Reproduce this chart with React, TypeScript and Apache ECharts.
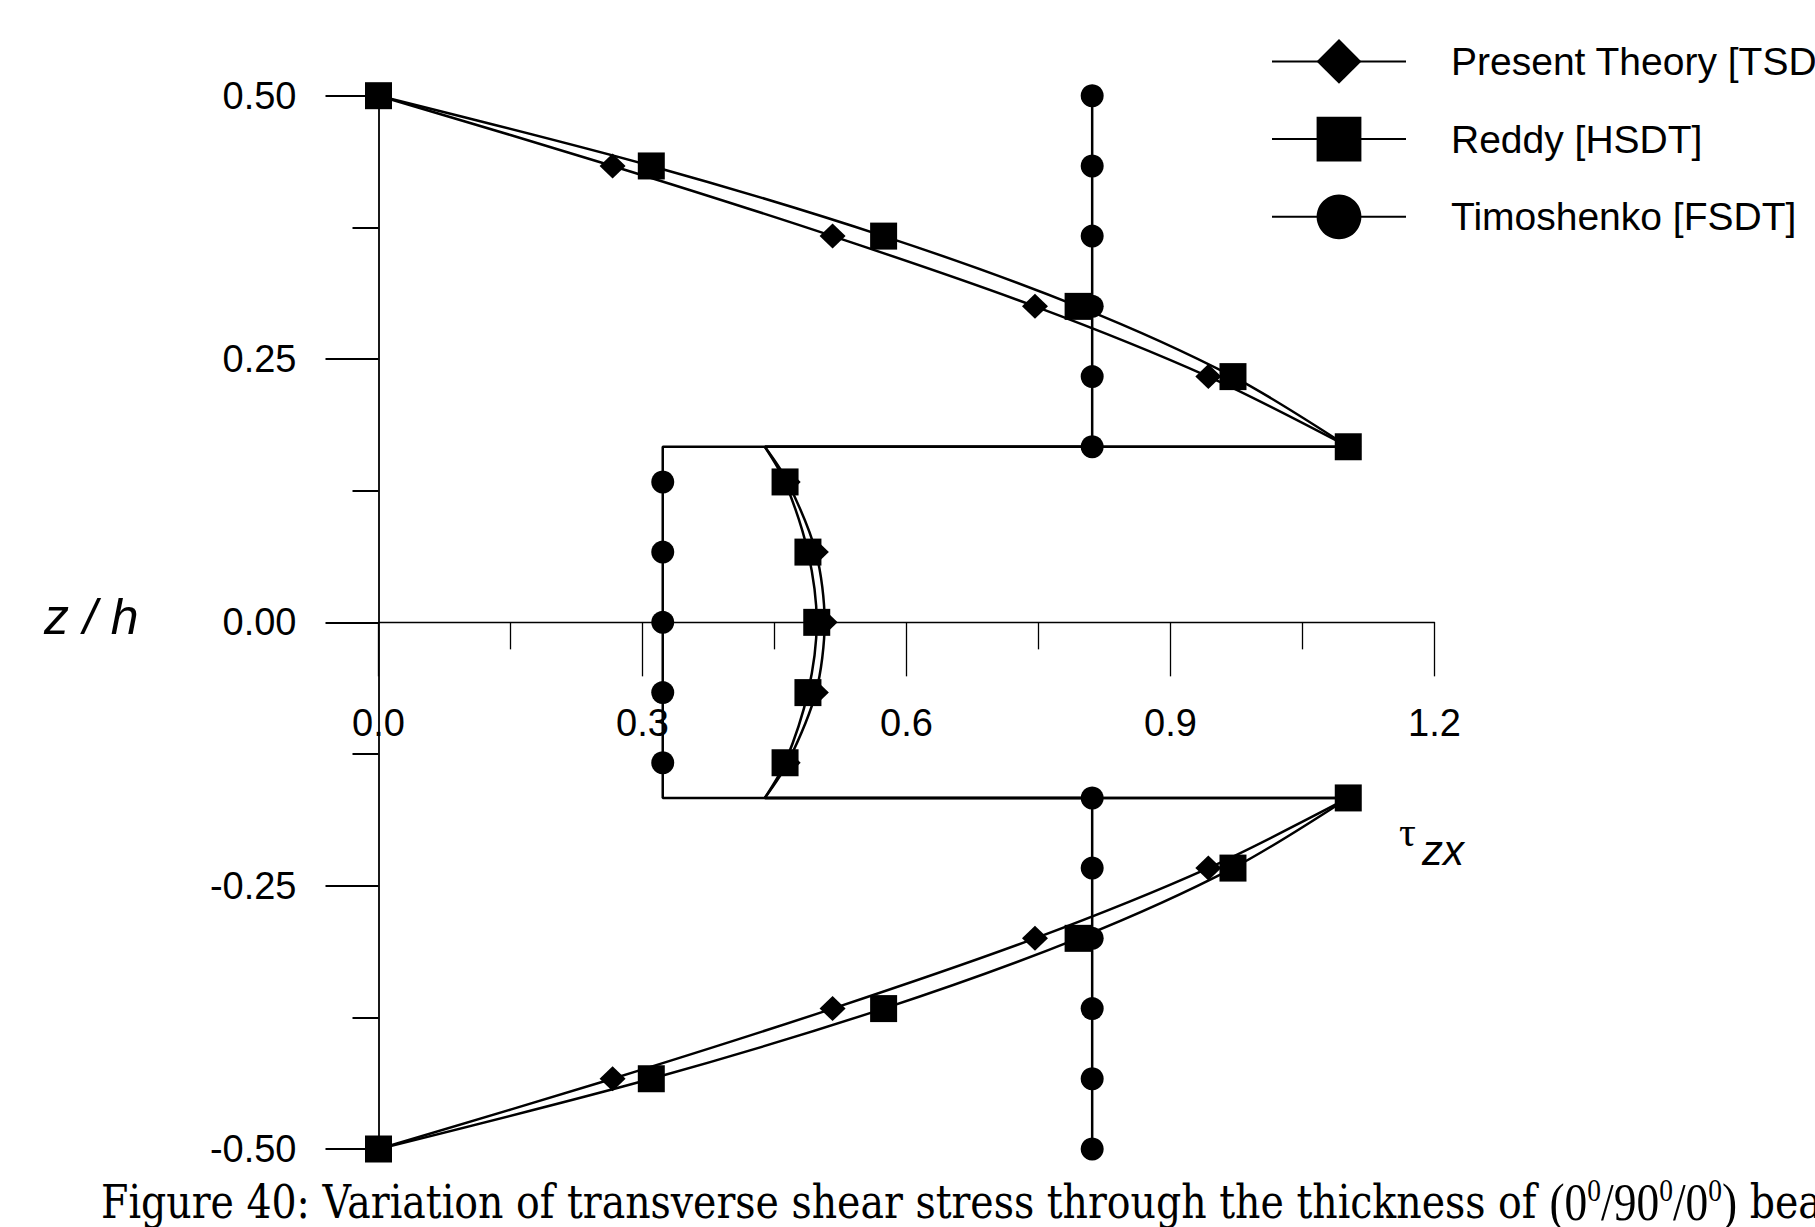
import React, { useEffect, useRef } from "react";
import * as echarts from "echarts";

// ---- data ----
const seriesNames = ["Present Theory [TSDT]", "Reddy [HSDT]", "Timoshenko [FSDT]"];

// top layer (0° ply), z/h from 0.5 down to 1/6
const zTop = [0.5, 0.4333, 0.3667, 0.3, 0.2333, 0.1667];
const presentTop = [0.0, 0.266, 0.516, 0.746, 0.943, 1.102];
const reddyTop = [0.0, 0.31, 0.574, 0.795, 0.971, 1.102];
const timoTop = [0.811, 0.811, 0.811, 0.811, 0.811, 0.811];

// middle layer (90° ply), z/h from 1/6 to -1/6
const zMid = [0.1667, 0.1333, 0.0667, 0.0, -0.0667, -0.1333, -0.1667];
const presentMid = [0.439, 0.465, 0.497, 0.507, 0.497, 0.465, 0.439];
const reddyMid = [0.439, 0.462, 0.488, 0.498, 0.488, 0.462, 0.439];
const timoMid = [0.323, 0.323, 0.323, 0.323, 0.323, 0.323, 0.323];
const midMarked = [false, true, true, true, true, true, false];

// bottom layer (0° ply), z/h from -1/6 to -0.5
const zBot = [-0.1667, -0.2333, -0.3, -0.3667, -0.4333, -0.5];
const presentBot = [1.102, 0.943, 0.746, 0.516, 0.266, 0.0];
const reddyBot = [1.102, 0.971, 0.795, 0.574, 0.31, 0.0];
const timoBot = [0.811, 0.811, 0.811, 0.811, 0.811, 0.811];

const xTickLabels = ["0.0", "0.3", "0.6", "0.9", "1.2"];
const yTickLabels = ["-0.50", "-0.25", "0.00", "0.25", "0.50"];

const captionPrefix = "Figure 40: Variation of transverse shear stress through the thickness of ";
const captionRich =
  "{n|" + captionPrefix + "}{p|(0}{s|0}{p|/90}{s|0}{p|/0}{s|0}{p|)}{n| beam}";

const pts = (xs: number[], zs: number[], marked?: boolean[]) =>
  xs.map((x, i) =>
    marked && !marked[i] ? { value: [x, zs[i]], symbol: "none" } : [x, zs[i]]
  );

export default function App() {
  const ref = useRef<HTMLDivElement>(null);

  useEffect(() => {
    if (!ref.current) return;
    const chart = echarts.init(ref.current, undefined, { renderer: "svg" });

    const capFont = 46;
    let capScale = 1;
    try {
      const ctx = document.createElement("canvas").getContext("2d");
      if (ctx) {
        ctx.font = capFont + 'px "DejaVu Serif"';
        const w = ctx.measureText(captionPrefix).width;
        if (w > 0) capScale = 1448 / w;
      }
    } catch (e) {}

    const black = "#000";
    const lineW = 2.5;
    const fontSans = "Liberation Sans";

    const mkSeries = (name: string, data: any[], symbol: string, size: any, smooth: any) => ({
      name,
      type: "line",
      data,
      smooth,
      symbol,
      symbolSize: size,
      lineStyle: { color: black, width: lineW },
      itemStyle: { color: black },
      emphasis: { disabled: true },
    });

    const dSize = [26, 25];
    const sSize = 27;
    const cSize = 23;
    const sm = 0.3;

    const layered = (name: string, top: number[], mid: number[], bot: number[], symbol: string, size: any) => [
      mkSeries(name, pts(top, zTop), symbol, size, sm),
      mkSeries(
        name,
        [
          [top[top.length - 1], zTop[zTop.length - 1]],
          [mid[0], zMid[0]],
        ],
        "none",
        size,
        false
      ),
      mkSeries(name, pts(mid, zMid, midMarked), symbol, size, sm),
      mkSeries(
        name,
        [
          [mid[mid.length - 1], zMid[zMid.length - 1]],
          [bot[0], zBot[0]],
        ],
        "none",
        size,
        false
      ),
      mkSeries(name, pts(bot, zBot), symbol, size, sm),
    ];

    const series: any[] = [
      ...layered(seriesNames[0], presentTop, presentMid, presentBot, "diamond", dSize),
      ...layered(seriesNames[1], reddyTop, reddyMid, reddyBot, "rect", sSize),
      mkSeries(
        seriesNames[2],
        [...pts(timoTop, zTop), ...pts(timoMid, zMid, midMarked), ...pts(timoBot, zBot)],
        "circle",
        cSize,
        false
      ),
    ];

    const gridTop = 95.7;
    const gridH = 1053.3;
    // labels of an on-zero axis stay at the grid's bottom edge; pull them back up under the zero line
    const xLabelMargin = 82 - gridH / 2;

    chart.setOption({
      animation: false,
      backgroundColor: "#fff",
      grid: {
        left: 378.5,
        top: gridTop,
        width: 1056,
        height: gridH,
        containLabel: false,
        outerBoundsMode: "none",
      },
      legend: {
        data: seriesNames,
        orient: "vertical",
        left: 1266,
        top: 34,
        itemWidth: 134,
        itemHeight: 56,
        itemGap: 32.9,
        selectedMode: false,
        textStyle: {
          color: black,
          fontFamily: fontSans,
          fontSize: 39,
          padding: [0, 0, 0, 40],
        },
      },
      xAxis: {
        type: "value",
        min: 0,
        max: 1.2,
        interval: 0.3,
        axisLine: { onZero: true, lineStyle: { color: black, width: 1.3 } },
        axisTick: { show: true, length: 54, lineStyle: { color: black, width: 1.3 } },
        minorTick: { show: true, splitNumber: 2, length: 27, lineStyle: { color: black, width: 1.3 } },
        splitLine: { show: false },
        minorSplitLine: { show: false },
        axisLabel: {
          color: black,
          fontFamily: fontSans,
          fontSize: 38,
          margin: xLabelMargin,
          formatter: (v: number) => xTickLabels[Math.round(v / 0.3)] ?? "",
        },
      },
      yAxis: {
        type: "value",
        min: -0.5,
        max: 0.5,
        interval: 0.25,
        axisLine: { onZero: true, lineStyle: { color: black, width: 1.8 } },
        axisTick: { show: true, length: 53, lineStyle: { color: black, width: 2 } },
        minorTick: { show: true, splitNumber: 2, length: 26, lineStyle: { color: black, width: 2 } },
        splitLine: { show: false },
        minorSplitLine: { show: false },
        axisLabel: {
          color: black,
          fontFamily: fontSans,
          fontSize: 38,
          margin: 82,
          formatter: (v: number) => yTickLabels[Math.round((v + 0.5) / 0.25)] ?? "",
        },
      },
      graphic: [
        {
          type: "text",
          left: 44,
          top: 592,
          style: {
            text: "z / h",
            fill: black,
            font: 'italic 50px "Liberation Sans"',
          },
        },
        {
          type: "text",
          x: 1399,
          y: 853,
          style: {
            text: "\u03c4",
            fill: black,
            font: '42px "Liberation Serif"',
            verticalAlign: "bottom",
          },
        },
        {
          type: "text",
          x: 1422,
          y: 871,
          style: {
            text: "zx",
            fill: black,
            font: 'italic 42px "Liberation Sans"',
            verticalAlign: "bottom",
          },
        },
        {
          type: "text",
          x: 101,
          y: 1202,
          scaleX: capScale,
          style: {
            text: captionRich,
            fill: black,
            verticalAlign: "middle",
            align: "left",
            rich: {
              n: { fontFamily: "DejaVu Serif", fontSize: capFont, lineHeight: 44, color: black },
              p: { fontFamily: "Liberation Serif", fontSize: 53, lineHeight: 44, color: black },
              s: {
                fontFamily: "Liberation Serif",
                fontSize: 32,
                lineHeight: 20,
                color: black,
                padding: [0, 0, 24, 0],
              },
            },
          },
        },
      ],
      series,
    });

    return () => chart.dispose();
  }, []);

  return (
    <div
      ref={ref}
      style={{
        position: "fixed",
        left: 0,
        top: 0,
        width: 1815,
        height: 1227,
        overflow: "hidden",
        background: "#fff",
      }}
    />
  );
}
